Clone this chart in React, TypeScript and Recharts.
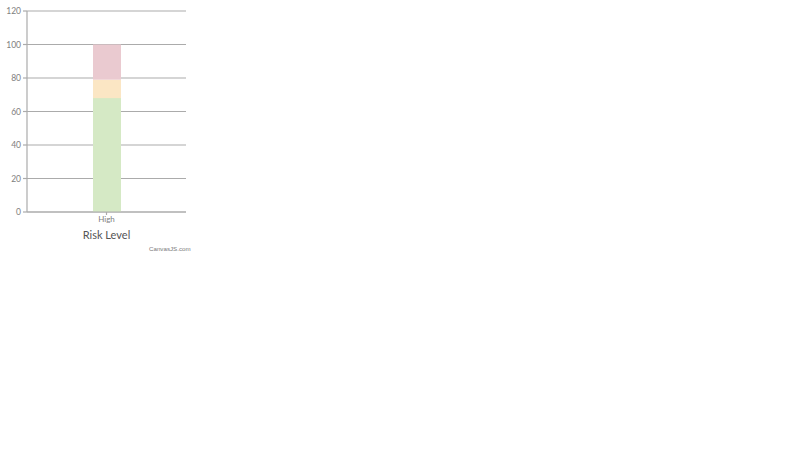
import React from 'react';
import { BarChart, Bar, XAxis, YAxis, CartesianGrid } from 'recharts';

const categories = ['High'];
const lowValues = [68];
const mediumValues = [11];
const highValues = [21];
const yTicks = [0, 20, 40, 60, 80, 100, 120];

const data = categories.map((name, i) => ({
  name,
  low: lowValues[i],
  medium: mediumValues[i],
  high: highValues[i],
}));

const FONT = 'Lato, "Open Sans", sans-serif';
const GRID = '#ababab';

export default function App() {
  return (
    <div style={{ position: 'absolute', left: 0, top: 0, width: 800, height: 450, background: '#fff' }}>
      <BarChart
        width={200}
        height={260}
        data={data}
        margin={{ top: 11, right: 14, bottom: 0, left: 0 }}
      >
        <CartesianGrid vertical={false} stroke={GRID} strokeWidth={1.2} />
        <YAxis
          width={27}
          domain={[0, 120]}
          ticks={yTicks}
          interval={0}
          tickSize={4}
          tickMargin={2}
          axisLine={{ stroke: GRID, strokeWidth: 1.2 }}
          tickLine={{ stroke: GRID, strokeWidth: 1.2 }}
          tick={{ fontSize: 8.5, fill: '#808080', fontFamily: FONT }}
        />
        <XAxis
          dataKey="name"
          height={48}
          tickSize={3}
          tickMargin={1.5}
          axisLine={{ stroke: GRID, strokeWidth: 1.2 }}
          tickLine={{ stroke: GRID, strokeWidth: 1.2 }}
          tick={{ fontSize: 8, fill: '#808080', fontFamily: FONT }}
          label={{
            value: 'Risk Level',
            position: 'insideTop',
            offset: 19,
            fontSize: 11,
            fill: '#555555',
            fontFamily: FONT,
          }}
        />
        <Bar dataKey="low" stackId="a" fill="#d5e9c5" barSize={28} isAnimationActive={false} />
        <Bar dataKey="medium" stackId="a" fill="#fbe6c4" barSize={28} isAnimationActive={false} />
        <Bar dataKey="high" stackId="a" fill="#eacad0" barSize={28} isAnimationActive={false} />
      </BarChart>
      <div
        style={{
          position: 'absolute',
          left: 149,
          top: 245,
          fontSize: 6.2,
          lineHeight: '8px',
          color: '#7a7a7a',
          fontFamily: '"Liberation Sans", Arial, sans-serif',
          whiteSpace: 'nowrap',
        }}
      >
        CanvasJS.com
      </div>
    </div>
  );
}
